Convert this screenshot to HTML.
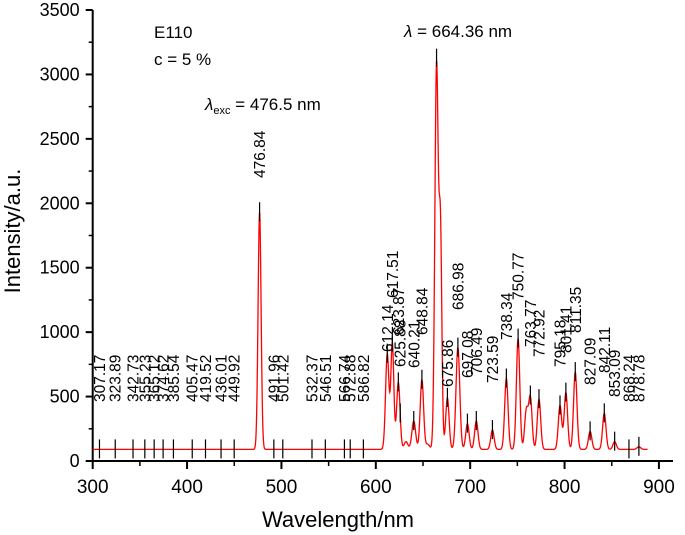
<!DOCTYPE html>
<html><head><meta charset="utf-8"><style>
body{margin:0;background:#fff}
svg{display:block;font-family:"Liberation Sans",Arial,sans-serif}
</style></head><body>
<svg id="chart" width="685" height="535" viewBox="0 0 685 535" xmlns="http://www.w3.org/2000/svg">
<g id="axes"></g>
<g id="plot"></g>
<text x="154" y="38" font-size="17">E110</text>
<text x="154" y="65" font-size="17">c = 5 %</text>
<text x="205" y="110" font-size="17"><tspan font-style="italic">λ</tspan><tspan font-size="11" dy="4">exc</tspan><tspan dy="-4"> = 476.5 nm</tspan></text>
<text x="404" y="37" font-size="17"><tspan font-style="italic">λ</tspan> = 664.36 nm</text>
<text x="338" y="527" font-size="22" text-anchor="middle">Wavelength/nm</text>
<text transform="translate(20,231) rotate(-90)" font-size="22" text-anchor="middle">Intensity/a.u.</text>
</svg>
<script>
// peak data (nm, intensity a.u.)
const peakCenters = [476.84, 612.14, 617.51, 623.87, 632, 640.21, 648.84, 655, 664.36, 668.5, 675.86, 686.98, 697.08, 706.49, 723.59, 738.34, 750.77, 759.5, 763.77, 772.92, 795.18, 801.41, 811.35, 827.09, 842.11, 853.09, 878.78];
const peakHeights = [1840, 740, 820, 520, 60, 220, 540, 40, 2980, 1650, 400, 790, 200, 220, 150, 550, 860, 300, 400, 390, 340, 440, 600, 140, 280, 60, 20];
const peakWidths = [1.6, 1.8, 1.6, 1.8, 2, 2, 1.8, 2, 1.8, 1.5, 1.8, 2, 1.8, 1.8, 1.8, 1.8, 1.8, 1.8, 1.8, 1.8, 1.8, 1.8, 1.8, 1.8, 1.8, 1.8, 2];
const baseline = 90;
const labels = ["307.17","323.89","342.73","355.23","365.12","374.62","385.54","405.47","419.52","436.01","449.92","476.84","491.96","501.42","532.37","546.51","566.74","572.88","586.82","612.14","617.51","623.87","625.88","640.21","648.84","675.86","686.98","697.08","706.49","723.59","738.34","750.77","763.77","772.92","795.18","801.41","811.35","827.09","842.11","853.09","868.24","878.78"];
// label text bottom (layout, px)
const labelBottoms = [402,402,402,402,402,402,402,402,402,402,402,178,402,402,402,402,402,402,402,352,298,335,367,368,335,387,310,378,375,383,340,300,347,357,367,353,333,385,373,397,402,402];
const unlabeledMarkers = [664.36];
const xTicks = [300,400,500,600,700,800,900];
const yTicks = [0,500,1000,1500,2000,2500,3000,3500];

const NS="http://www.w3.org/2000/svg";
const X0=92.7, KX=0.9437, Y0=461, KY=451/3500;
const xs=v=>X0+(v-300)*KX;
const ys=v=>Y0-v*KY;
function el(tag,attrs,parent){const e=document.createElementNS(NS,tag);for(const k in attrs)e.setAttribute(k,attrs[k]);parent.appendChild(e);return e;}
function I(w){let s=baseline;for(let i=0;i<peakCenters.length;i++){const d=(w-peakCenters[i])/peakWidths[i];s+=peakHeights[i]*Math.exp(-0.5*d*d);}return s;}
const axes=document.getElementById('axes'), plot=document.getElementById('plot');
let a=el('line',{x1:X0,y1:10,x2:X0,y2:Y0,stroke:'#000','stroke-width':2},axes);


a=el('line',{x1:X0-1,y1:Y0,x2:673,y2:Y0,stroke:'#000','stroke-width':2},axes);


xTicks.forEach(t=>{
  const x=xs(t);
  const l=el('line',{x1:x,y1:Y0,x2:x,y2:Y0+8,stroke:'#000','stroke-width':2},axes);
  
  
  const tx=el('text',{x:x,y:Y0+32,'font-size':19,'text-anchor':'middle'},axes);tx.textContent=t;
  
  
  if(t<900){const m=el('line',{x1:xs(t+50),y1:Y0,x2:xs(t+50),y2:Y0+5,stroke:'#000','stroke-width':1.5},axes);
  
  }
});
yTicks.forEach(t=>{
  const y=ys(t);
  const l=el('line',{x1:X0-7,y1:y,x2:X0,y2:y,stroke:'#000','stroke-width':2},axes);
  
  
  const tx=el('text',{x:X0-13,y:y+6,'font-size':18,'text-anchor':'end'},axes);tx.textContent=t;
  
  
  if(t<3500){const m=el('line',{x1:X0-4,y1:ys(t+250),x2:X0,y2:ys(t+250),stroke:'#000','stroke-width':1.5},axes);
  
  }
});
let d='';
for(let w=300;w<=888;w+=0.25){d+=(w===300?'M':'L')+xs(w).toFixed(2)+','+ys(I(w)).toFixed(2);}
const p=el('path',{d:d,fill:'none',stroke:'#f00','stroke-width':1.3},plot);


unlabeledMarkers.forEach(w=>{
  const x=xs(w), y=ys(I(w));
  const m=el('line',{x1:x,y1:y-12,x2:x,y2:y+6,stroke:'#000','stroke-width':1.2},plot);
  
  
});
labels.forEach((lab,i)=>{
  const w=parseFloat(lab), x=xs(w), y=ys(I(w));
  const m=el('line',{x1:x,y1:y-10,x2:x,y2:y+9,stroke:'#000','stroke-width':1.2},plot);
  
  
  const t=el('text',{x:0,y:0,'font-size':15.5,transform:`translate(${(x+5.5).toFixed(1)},${labelBottoms[i]}) rotate(-90)`},plot);
  t.textContent=lab;
  
  
});
</script>
</body></html>
